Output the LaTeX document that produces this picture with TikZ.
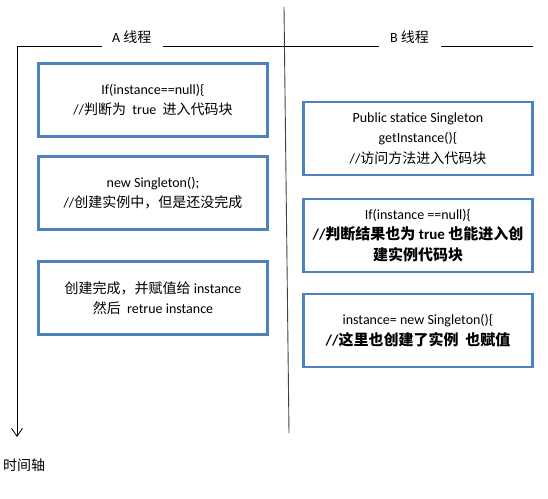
\documentclass[tikz,border=0pt]{standalone}
\usepackage{fontspec}
\setmainfont{Carlito}
\newfontfamily\cjk{Noto Sans CJK SC}
\usetikzlibrary{positioning, arrows.meta, calc}
\definecolor{boxblue}{HTML}{4F81BD}
\newcommand{\zh}[1]{{\cjk #1}}
\newcommand{\boldline}[1]{{\fontsize{15}{20}\selectfont\bfseries #1}}
\tikzset{
    codebox/.style={draw=boxblue, line width=2.5pt, minimum width=229pt, minimum height=73pt, align=center, outer sep=0pt, inner sep=2pt},
    lane/.style={inner sep=0pt},
    divider/.style={draw=black!75, line width=0.9pt},
    every node/.append style={font=\fontsize{14}{20.5}\selectfont},
}

\begin{document}
\begin{tikzpicture}[x=1pt, y=1pt]
    \useasboundingbox (0,0) rectangle (548,498);

    % time axis, lane heading line and divider
    \coordinate (axis) at (17,452);
    \coordinate (axisend) at (17,61);
    \coordinate (gapAl) at (102,452);
    \coordinate (gapAr) at (163,452);
    \coordinate (gapBl) at (379,452);
    \coordinate (gapBr) at (441,452);
    \coordinate (topend) at (533,452);
    \coordinate (divtop) at (284,491);
    \coordinate (divbot) at (289,65);

    \draw[line width=0.8pt] (axis) -- (gapAl) (gapAr) -- (gapBl) (gapBr) -- (topend);
    \draw[line width=0.8pt, -{Straight Barb[length=8pt, width=11pt]}] (axis) -- (axisend);
    \draw[divider] (divtop) -- (divbot);

    \node[lane, anchor=base west] (laneA) at ($(gapAl)+(10,3)$) {A \zh{线程}};
    \node[lane, anchor=base west] (laneB) at ($(gapBl)+(11,3)$) {B \zh{线程}};
    \node[lane, anchor=west] (timeaxis) at (3,33) {\zh{时间轴}};

    % thread A
    \node[codebox] (a1) at (153,398) {If(instance==null)\{\\//\zh{判断为}\ \ true\ \ \zh{进入代码块}};
    \node[codebox, below=20pt of a1] (a2) {new Singleton();\\//\zh{创建实例中，但是还没完成}};
    \node[codebox, below=32pt of a2] (a3) {\zh{创建完成，并赋值给} instance\\\zh{然后}\ \ retrue instance};

    % thread B
    \node[codebox] (b1) at (418,359.5) {Public statice Singleton\\getInstance()\{\\//\zh{访问方法进入代码块}};
    \node[codebox, below=24pt of b1] (b2) {If(instance ==null)\{\\\boldline{//\zh{判断结果也为} true \zh{也能进入创}}\\\boldline{\zh{建实例代码块}}};
    \node[codebox, below=22pt of b2] (b3) {instance= new Singleton()\{\\\boldline{//\zh{这里也创建了实例}\ \ \zh{也赋值}}};
\end{tikzpicture}
\end{document}
